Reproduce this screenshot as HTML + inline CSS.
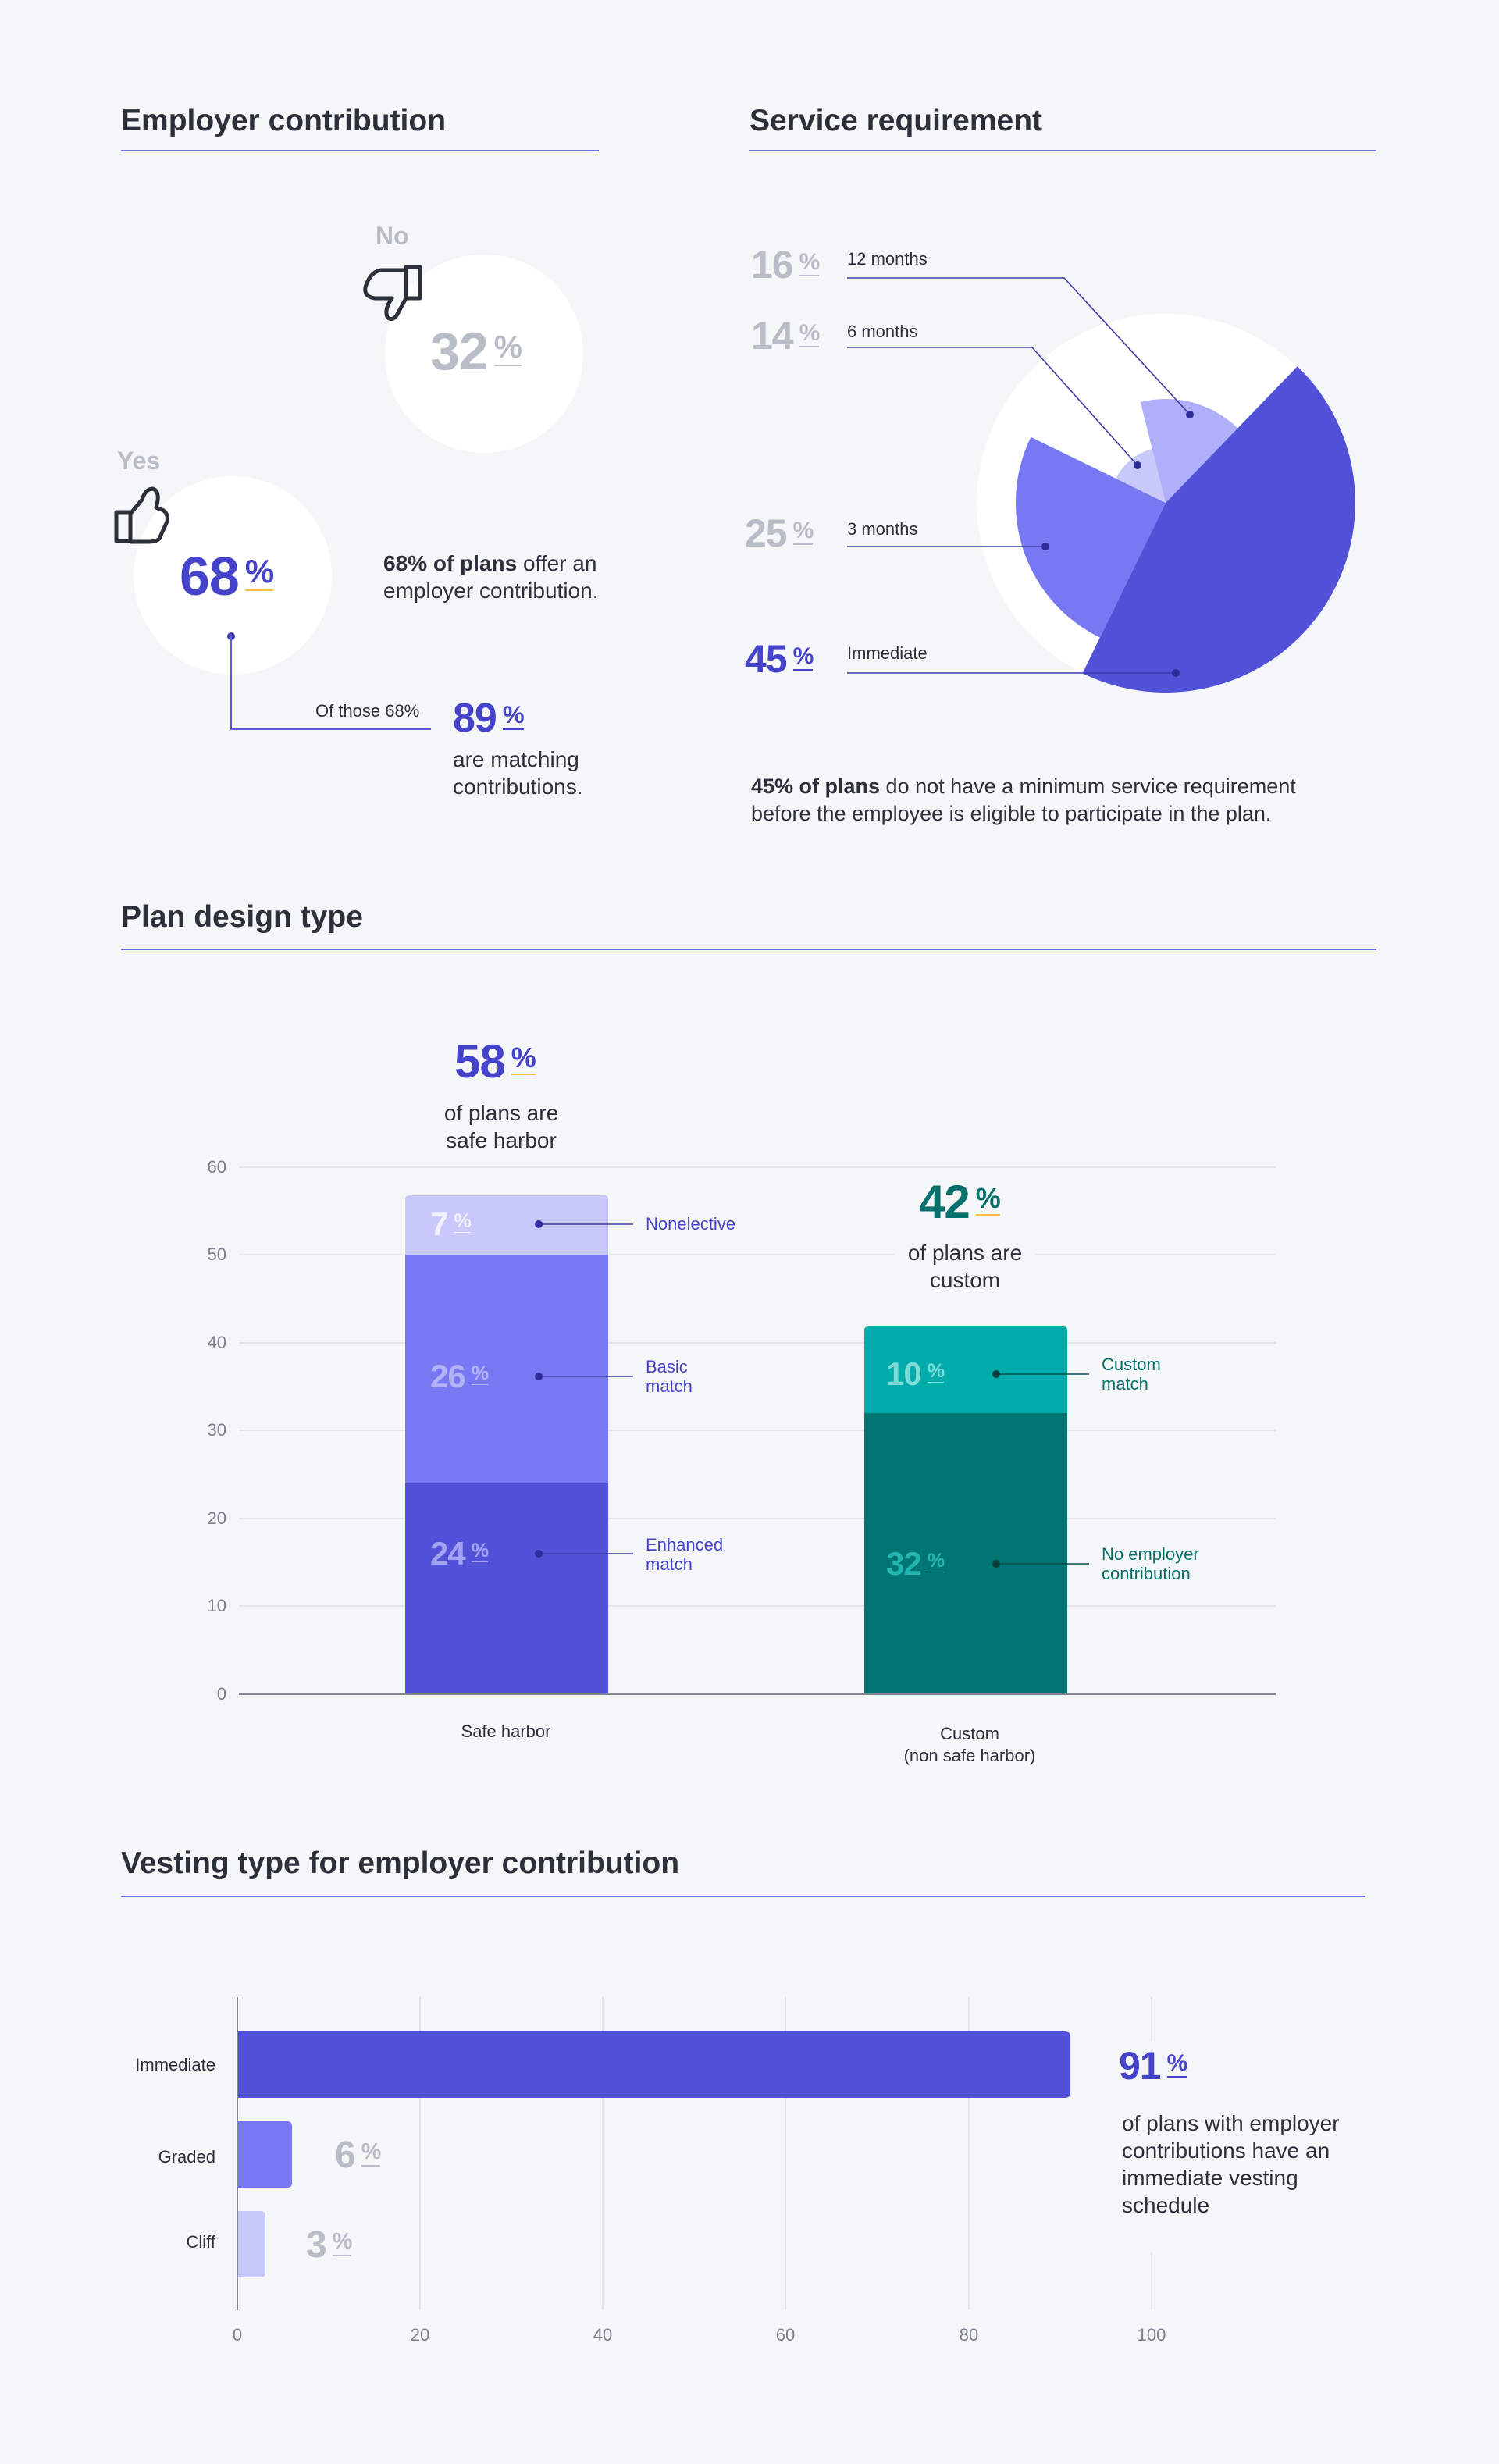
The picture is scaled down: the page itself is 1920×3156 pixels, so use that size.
<!DOCTYPE html>
<html><head><meta charset="utf-8">
<style>
*{margin:0;padding:0;box-sizing:border-box}
body{width:1920px;height:3156px;background:#f5f6f8;position:relative;font-family:"Liberation Sans",sans-serif;color:#2b303b;overflow:hidden}
.t{position:absolute;white-space:nowrap;line-height:1}
.h{font-size:39px;font-weight:bold;color:#2b303b}
.rule{position:absolute;height:2px;background:#6b6be6}
.big{font-weight:bold;letter-spacing:-1px}
.pc{font-size:0.6em;display:inline-block;vertical-align:top;margin-left:8px;margin-top:0.15em;border-bottom:0.07em solid currentColor;line-height:1.1}
.y .pc{border-bottom-color:#f5c242}
.lbl{font-size:22px;color:#2b303b}
.gray{color:#b9bdc7}
.blue{color:#4543c9}
.teal{color:#06706d}
.p{font-size:28px;line-height:35px;color:#2b303b}
.ax{font-size:22px;color:#7b8190}
</style></head><body>

<div class="t h" style="left:155px;top:135px">Employer contribution</div>
<div class="rule" style="left:155px;top:192px;width:612px"></div>
<div class="t h" style="left:960px;top:135px">Service requirement</div>
<div class="rule" style="left:960px;top:192px;width:803px"></div>

<div style="position:absolute;left:493px;top:326px;width:254px;height:254px;border-radius:50%;background:#fff"></div>
<div style="position:absolute;left:171px;top:610px;width:254px;height:254px;border-radius:50%;background:#fff"></div>

<div class="t gray" style="left:481px;top:286px;font-size:32px;font-weight:bold">No</div>
<div class="t gray" style="left:150px;top:574px;font-size:32px;font-weight:bold">Yes</div>

<svg style="position:absolute;left:0;top:0" width="1920" height="3156">
 <g fill="none" stroke="#2b303b" stroke-width="5" stroke-linejoin="round">
  <rect x="520" y="342" width="18" height="40"/>
  <path d="M520 346 H488 Q474 348 468 368 Q466 380 480 382 H502 Q492 396 496 406 Q502 412 508 404 L520 382"/>
  <rect x="149" y="656" width="18" height="37"/>
  <path d="M167 658 L182 640 Q186 626 196 626 Q206 630 200 650 L204 652 Q216 654 214 668 L204 690 Q200 694 190 694 H167"/>
 </g>
 <circle cx="296" cy="815" r="5" fill="#3d3aa8"/>
 <path d="M296 815 V934 H552" stroke="#5b58d6" stroke-width="2" fill="none"/>

 <circle cx="1493" cy="644" r="242" fill="#fff"/>
 <path d="M1493 644 L1408.8 816.6 A192 192 0 0 1 1320.4 559.8 Z" fill="#7878f3"/>
 <path d="M1493 644 L1429.2 612.9 A71 71 0 0 1 1475.8 575.1 Z" fill="#c8c8fb"/>
 <path d="M1493 644 L1460.8 515 A133 133 0 0 1 1585.4 548.3 Z" fill="#b0b0fa"/>
 <path d="M1493 644 L1661.8 469.2 A243 243 0 0 1 1386.5 862.4 Z" fill="#5252d9"/>
 <g stroke="#3d3aa8" stroke-width="1.6" fill="none">
  <path d="M1085 356 H1363 L1524 531"/>
  <path d="M1085 445 H1322 L1457 596"/>
  <path d="M1085 700 H1339"/>
  <path d="M1085 862 H1506"/>
 </g>
 <g fill="#2f2c99">
  <circle cx="1524" cy="531" r="5"/><circle cx="1457" cy="596" r="5"/>
  <circle cx="1339" cy="700" r="5"/><circle cx="1506" cy="862" r="5"/>
 </g>

 <g stroke="#e3e5ea" stroke-width="2">
  <line x1="306" y1="1495" x2="1634" y2="1495"/>
  <line x1="306" y1="1607" x2="1634" y2="1607"/>
  <line x1="306" y1="1720" x2="1634" y2="1720"/>
  <line x1="306" y1="1832" x2="1634" y2="1832"/>
  <line x1="306" y1="1945" x2="1634" y2="1945"/>
  <line x1="306" y1="2057" x2="1634" y2="2057"/>
 </g>
 <rect x="519" y="1900" width="260" height="270" fill="#5252d9"/>
 <rect x="519" y="1607" width="260" height="293" fill="#7878f3"/>
 <path d="M519 1607 V1536 Q519 1531 524 1531 H774 Q779 1531 779 1536 V1607 Z" fill="#c8c8fb"/>
 <rect x="1107" y="1810" width="260" height="360" fill="#007674"/>
 <path d="M1107 1810 V1704 Q1107 1699 1112 1699 H1362 Q1367 1699 1367 1704 V1810 Z" fill="#00acaa"/>
 <line x1="306" y1="2170" x2="1634" y2="2170" stroke="#80858f" stroke-width="2"/>
 <g stroke="#3d3aa8" stroke-width="1.6"><line x1="690" y1="1568" x2="811" y2="1568"/><line x1="690" y1="1763" x2="811" y2="1763"/><line x1="690" y1="1990" x2="811" y2="1990"/></g>
 <g fill="#2f2c99"><circle cx="690" cy="1568" r="5"/><circle cx="690" cy="1763" r="5"/><circle cx="690" cy="1990" r="5"/></g>
 <g stroke="#0a4d4b" stroke-width="1.6"><line x1="1276" y1="1760" x2="1395" y2="1760"/><line x1="1276" y1="2003" x2="1395" y2="2003"/></g>
 <g fill="#0a3f3e"><circle cx="1276" cy="1760" r="5"/><circle cx="1276" cy="2003" r="5"/></g>

 <g stroke="#e3e5ea" stroke-width="2">
  <line x1="538" y1="2558" x2="538" y2="2959"/>
  <line x1="772" y1="2558" x2="772" y2="2959"/>
  <line x1="1006" y1="2558" x2="1006" y2="2959"/>
  <line x1="1241" y1="2558" x2="1241" y2="2959"/>
  <line x1="1475" y1="2558" x2="1475" y2="2615"/>
  <line x1="1475" y1="2885" x2="1475" y2="2959"/>
 </g>
 <path d="M304 2602 H1364 Q1371 2602 1371 2609 V2680 Q1371 2687 1364 2687 H304 Z" fill="#5252d9"/>
 <path d="M304 2717 H368 Q374 2717 374 2723 V2796 Q374 2802 368 2802 H304 Z" fill="#7878f3"/>
 <path d="M304 2832 H334 Q340 2832 340 2838 V2911 Q340 2917 334 2917 H304 Z" fill="#c8c8fb"/>
 <line x1="304" y1="2558" x2="304" y2="2959" stroke="#80858f" stroke-width="2"/>
</svg>

<div class="t big gray" style="left:551px;top:416px;font-size:68px">32<span class="pc">%</span></div>
<div class="t big blue y" style="left:230px;top:703px;font-size:70px">68<span class="pc">%</span></div>
<div class="t p" style="left:491px;top:704px">
<b>68% of plans</b> offer an<br>employer contribution.</div>
<div class="t" style="left:404px;top:900px;font-size:22px">Of those 68%</div>
<div class="t big blue" style="left:580px;top:894px;font-size:52px">89<span class="pc">%</span></div>
<div class="t p" style="left:580px;top:955px">are matching<br>contributions.</div>

<div class="t big gray" style="left:962px;top:314px;font-size:50px">16<span class="pc">%</span></div>
<div class="t big gray" style="left:962px;top:405px;font-size:50px">14<span class="pc">%</span></div>
<div class="t big gray" style="left:954px;top:658px;font-size:50px">25<span class="pc">%</span></div>
<div class="t big blue" style="left:954px;top:819px;font-size:50px">45<span class="pc">%</span></div>
<div class="t lbl" style="left:1085px;top:321px">12 months</div>
<div class="t lbl" style="left:1085px;top:414px">6 months</div>
<div class="t lbl" style="left:1085px;top:667px">3 months</div>
<div class="t lbl" style="left:1085px;top:826px">Immediate</div>
<div class="t p" style="left:962px;top:990px;font-size:27px"><b>45% of plans</b> do not have a minimum service requirement<br>before the employee is eligible to participate in the plan.</div>

<div class="t h" style="left:155px;top:1155px">Plan design type</div>
<div class="rule" style="left:155px;top:1215px;width:1608px"></div>
<div class="t big blue y" style="left:582px;top:1330px;font-size:60px">58<span class="pc">%</span></div>
<div class="t p" style="left:500px;top:1408px;width:284px;text-align:center;white-space:normal">of plans are<br>safe harbor</div>
<div class="t big teal y" style="left:1177px;top:1510px;font-size:60px">42<span class="pc">%</span></div>
<div class="t p" style="left:1146px;top:1587px;width:180px;text-align:center;background:#f5f6f8">of plans are<br>custom</div>

<div class="t ax" style="left:250px;top:1484px;width:40px;text-align:right">60</div>
<div class="t ax" style="left:250px;top:1596px;width:40px;text-align:right">50</div>
<div class="t ax" style="left:250px;top:1709px;width:40px;text-align:right">40</div>
<div class="t ax" style="left:250px;top:1821px;width:40px;text-align:right">30</div>
<div class="t ax" style="left:250px;top:1934px;width:40px;text-align:right">20</div>
<div class="t ax" style="left:250px;top:2046px;width:40px;text-align:right">10</div>
<div class="t ax" style="left:250px;top:2159px;width:40px;text-align:right">0</div>

<div class="t big" style="left:551px;top:1547px;font-size:42px;color:#f1f1ff">7<span class="pc">%</span></div>
<div class="t big" style="left:551px;top:1742px;font-size:42px;color:#b3b3f8">26<span class="pc">%</span></div>
<div class="t big" style="left:551px;top:1969px;font-size:42px;color:#a3a3f0">24<span class="pc">%</span></div>
<div class="t big" style="left:1135px;top:1739px;font-size:42px;color:#7ddad6">10<span class="pc">%</span></div>
<div class="t big" style="left:1135px;top:1982px;font-size:42px;color:#22b5b1">32<span class="pc">%</span></div>

<div class="t lbl blue" style="left:827px;top:1557px">Nonelective</div>
<div class="t lbl blue" style="left:827px;top:1738px;line-height:25px">Basic<br>match</div>
<div class="t lbl blue" style="left:827px;top:1966px;line-height:25px">Enhanced<br>match</div>
<div class="t lbl teal" style="left:1411px;top:1735px;line-height:25px">Custom<br>match</div>
<div class="t lbl teal" style="left:1411px;top:1978px;line-height:25px">No employer<br>contribution</div>

<div class="t lbl" style="left:548px;top:2207px;width:200px;text-align:center">Safe harbor</div>
<div class="t lbl" style="left:1122px;top:2207px;width:240px;text-align:center;line-height:28px">Custom<br>(non safe harbor)</div>

<div class="t h" style="left:155px;top:2367px">Vesting type for employer contribution</div>
<div class="rule" style="left:155px;top:2428px;width:1594px"></div>
<div class="t lbl" style="left:100px;top:2634px;width:176px;text-align:right">Immediate</div>
<div class="t lbl" style="left:100px;top:2752px;width:176px;text-align:right">Graded</div>
<div class="t lbl" style="left:100px;top:2861px;width:176px;text-align:right">Cliff</div>
<div class="t big gray" style="left:429px;top:2737px;font-size:48px">6<span class="pc">%</span></div>
<div class="t big gray" style="left:392px;top:2852px;font-size:48px">3<span class="pc">%</span></div>
<div class="t big blue" style="left:1433px;top:2621px;font-size:50px">91<span class="pc">%</span></div>
<div class="t p" style="left:1437px;top:2702px">of plans with employer<br>contributions have an<br>immediate vesting<br>schedule</div>

<div class="t ax" style="left:284px;top:2980px;width:40px;text-align:center">0</div>
<div class="t ax" style="left:518px;top:2980px;width:40px;text-align:center">20</div>
<div class="t ax" style="left:752px;top:2980px;width:40px;text-align:center">40</div>
<div class="t ax" style="left:986px;top:2980px;width:40px;text-align:center">60</div>
<div class="t ax" style="left:1221px;top:2980px;width:40px;text-align:center">80</div>
<div class="t ax" style="left:1450px;top:2980px;width:50px;text-align:center">100</div>
</body></html>
